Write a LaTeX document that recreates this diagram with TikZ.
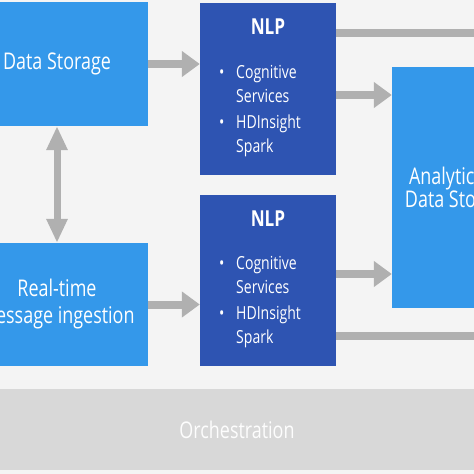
\documentclass[tikz,border=0pt]{standalone}
\usepackage{fontspec}
\setmainfont{Open Sans}[FakeStretch=0.78]
\usetikzlibrary{arrows.meta,calc}
\definecolor{bggray}{RGB}{244,244,244}
\definecolor{lblue}{RGB}{52,152,234}
\definecolor{dblue}{RGB}{46,84,178}
\definecolor{agray}{RGB}{176,176,176}
\definecolor{ogray}{RGB}{216,216,216}

\begin{document}
\begin{tikzpicture}[x=1pt,y=-1pt,
  lbox/.style={fill=lblue,text=white,align=center,inner sep=0pt,font=\fontsize{23}{27}\selectfont},
  nlpbox/.style={fill=dblue,minimum width=136pt,minimum height=172pt,inner sep=0pt},
  nlptitle/.style={text=white,inner sep=0pt,font=\fontsize{22}{26}\selectfont\bfseries},
  nlplist/.style={text=white,inner sep=0pt,anchor=base west,font=\fontsize{18}{24}\selectfont},
  flow/.style={agray,line width=8pt,-{Triangle[length=18pt,width=25pt]}},
  twoway/.style={agray,line width=7pt,{Triangle[length=24pt,width=20pt]}-{Triangle[length=24pt,width=20pt]}},
  feed/.style={agray,line width=8pt}]
% frame and background
\useasboundingbox (0,0) rectangle (474,474);
\clip (0,0) rectangle (474,474);
\fill[bggray] (0,0) rectangle (474,474);

% sources
\node[lbox,minimum width=182pt,minimum height=124pt] (store) at (57,64) {Data Storage};
\node[lbox,minimum width=182pt,minimum height=123pt] (ingest) at (57,304.5) {Real-time\\message ingestion};

% NLP stages
\node[nlpbox] (nlpA) at (268,89) {};
\node[nlptitle] (titleA) at (268,27) {NLP};
\node[nlplist] (listA) at (219,78) {\begin{tabular}[t]{@{}p{17pt}@{}l@{}}\textbullet & Cognitive\\ & Services\\[2pt] \textbullet & HDInsight\\ & Spark\end{tabular}};
\node[nlpbox,minimum height=171pt] (nlpB) at (268,280.5) {};
\node[nlptitle] (titleB) at (268,219) {NLP};
\node[nlplist] (listB) at (219,269) {\begin{tabular}[t]{@{}p{17pt}@{}l@{}}\textbullet & Cognitive\\ & Services\\[2pt] \textbullet & HDInsight\\ & Spark\end{tabular}};

% analytical store
\node[lbox,minimum width=114pt,minimum height=241pt,font=\fontsize{23}{21}\selectfont] (anstore) at (449,187.5) {Analytical\\Data Store};

% orchestration band
\node[fill=ogray,text=white!96!ogray,minimum width=500pt,minimum height=81pt,inner sep=0pt,font=\fontsize{23}{27}\selectfont] (orch) at (237,429.5) {Orchestration};

% connectors
\draw[flow] (store.east) -- (store.east -| nlpA.west);
\draw[flow] (ingest.east) -- (ingest.east -| nlpB.west);
\draw[twoway] (store.south) -- (ingest.north);
\coordinate (outA) at ($(nlpA.east)+(0,6)$);
\coordinate (outB) at ($(nlpB.east)+(0,-6.5)$);
\draw[flow] (outA) -- (outA -| anstore.west);
\draw[flow] (outB) -- (outB -| anstore.west);
\coordinate (endA) at (480,33);
\coordinate (endB) at (480,336);
\draw[feed] (nlpA.east |- endA) -- (endA);
\draw[feed] (nlpB.east |- endB) -- (endB);
\end{tikzpicture}
\end{document}
